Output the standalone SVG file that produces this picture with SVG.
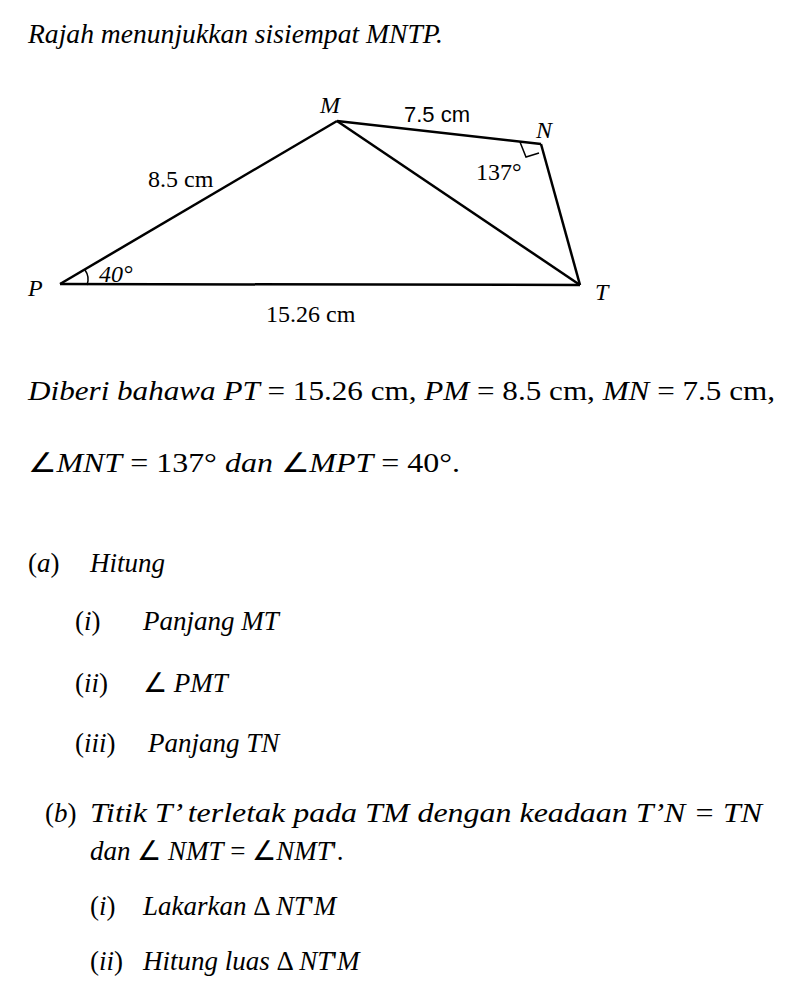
<svg xmlns="http://www.w3.org/2000/svg" width="800" height="995" viewBox="0 0 800 995">
<style>
text{font-family:"Liberation Serif",serif;font-size:27px;fill:#000}
.i{font-style:italic}
.s{font-family:"Liberation Sans",sans-serif;font-size:22px}
.l{font-size:24px}
.e{stroke:#000;stroke-width:2.5;fill:none}
</style>
<rect width="800" height="995" fill="#fff"/>
<text x="28" y="43" class="i" textLength="415" lengthAdjust="spacingAndGlyphs">Rajah menunjukkan sisiempat MNTP.</text>
<g id="connectors">
<line class="e" x1="60" y1="284" x2="337" y2="121"/>
<line class="e" x1="337" y1="121" x2="541" y2="144"/>
<line class="e" x1="541" y1="144" x2="580" y2="285"/>
<line class="e" x1="60" y1="284" x2="580" y2="285"/>
<line class="e" x1="337" y1="121" x2="580" y2="285"/>
<path d="M85,270 Q90,277 87,285" stroke="#000" stroke-width="1.5" fill="none"/>
<path d="M520,142 L526,157 L539,153" stroke="#000" stroke-width="1.5" fill="none"/>
</g>
<g id="M"><text x="320" y="113" class="i l">M</text></g>
<g id="N"><text x="536" y="138" class="i l">N</text></g>
<g id="P"><text x="28" y="296" class="i l">P</text></g>
<g id="T"><text x="595" y="300" class="i l">T</text></g>
<text x="404" y="122" class="s">7.5 cm</text>
<text x="148" y="187" class="l">8.5 cm</text>
<text x="476" y="180" class="l">137°</text>
<text x="99" y="282" class="i l">40°</text>
<text x="266" y="322" class="l">15.26 cm</text>
<text x="28" y="400" textLength="747" lengthAdjust="spacingAndGlyphs"><tspan class="i">Diberi bahawa PT</tspan> = 15.26 cm, <tspan class="i">PM</tspan> = 8.5 cm, <tspan class="i">MN</tspan> = 7.5 cm,</text>
<text x="28" y="472" textLength="432" lengthAdjust="spacingAndGlyphs">∠<tspan class="i">MNT</tspan> = 137° <tspan class="i">dan</tspan> ∠<tspan class="i">MPT</tspan> = 40°.</text>
<text x="28" y="572">(<tspan class="i">a</tspan>)</text>
<text x="90" y="572" class="i">Hitung</text>
<text x="75" y="630">(<tspan class="i">i</tspan>)</text>
<text x="143" y="630" class="i">Panjang MT</text>
<text x="75" y="692">(<tspan class="i">ii</tspan>)</text>
<text x="143" y="692">∠ <tspan class="i">PMT</tspan></text>
<text x="75" y="752">(<tspan class="i">iii</tspan>)</text>
<text x="148" y="752" class="i">Panjang TN</text>
<text x="45" y="822">(<tspan class="i">b</tspan>)</text>
<text x="90" y="822" class="i" textLength="672" lengthAdjust="spacingAndGlyphs">Titik T’ terletak pada TM dengan keadaan T’N = TN</text>
<text x="90" y="860"><tspan class="i">dan</tspan> ∠ <tspan class="i">NMT</tspan> = ∠<tspan class="i">NMT</tspan>'.</text>
<text x="90" y="915">(<tspan class="i">i</tspan>)</text>
<text x="143" y="915"><tspan class="i">Lakarkan</tspan> Δ <tspan class="i">NT</tspan>'<tspan class="i">M</tspan></text>
<text x="90" y="970">(<tspan class="i">ii</tspan>)</text>
<text x="143" y="970"><tspan class="i">Hitung luas</tspan> Δ <tspan class="i">NT</tspan>'<tspan class="i">M</tspan></text>
</svg>
